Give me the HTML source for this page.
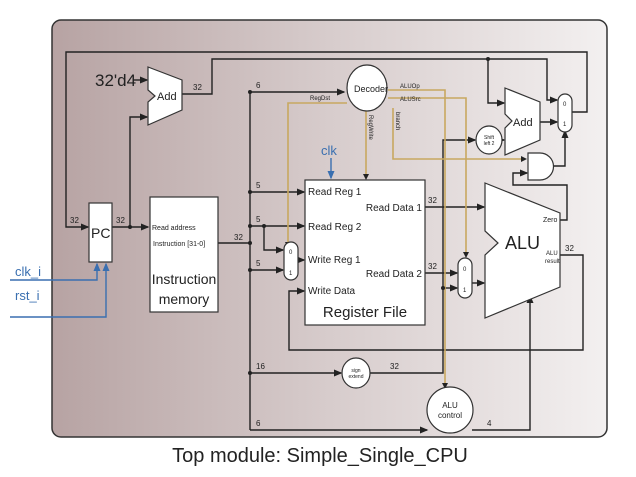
<!DOCTYPE html>
<html><head><meta charset="utf-8"><style>
html,body{margin:0;padding:0;background:#fff;width:636px;height:477px;overflow:hidden}
svg{display:block;font-family:"Liberation Sans",sans-serif}
</style></head><body>
<svg width="636" height="477" viewBox="0 0 636 477" xmlns="http://www.w3.org/2000/svg">
<defs>
<linearGradient id="bg" x1="0" y1="0" x2="1" y2="0">
<stop offset="0" stop-color="#b7a3a3"/><stop offset="0.5" stop-color="#d7cccc"/><stop offset="1" stop-color="#f3f0f0"/>
</linearGradient>
<marker id="a" markerWidth="6" markerHeight="6" refX="5" refY="3" orient="auto"><path d="M0,0.5 L6,3 L0,5.5z" fill="#222"/></marker>
<marker id="b" markerWidth="6" markerHeight="6" refX="5" refY="3" orient="auto"><path d="M0,0.5 L6,3 L0,5.5z" fill="#3a6fb0"/></marker>
</defs>
<rect x="52" y="20" width="555" height="417" rx="9" fill="url(#bg)" stroke="#333" stroke-width="1.5"/>
<g fill="none" stroke="#222" stroke-width="1.4">
<polyline points="572,112 587,112 587,52 66,52 66,227 88,227" marker-end="url(#a)"/>
<line x1="133" y1="80" x2="147" y2="80" marker-end="url(#a)"/>
<polyline points="182,94 212,94 212,59 547,59 547,100 557,100" marker-end="url(#a)"/>
<polyline points="488,59 488,103 504,103" marker-end="url(#a)"/>
<line x1="112" y1="227" x2="148" y2="227" marker-end="url(#a)"/>
<polyline points="130,227 130,117 147,117" marker-end="url(#a)"/>
<line x1="218" y1="243" x2="250" y2="243"/>
<polyline points="250,430 250,92 344,92" marker-end="url(#a)"/>
<line x1="250" y1="192" x2="304" y2="192" marker-end="url(#a)"/>
<line x1="250" y1="226" x2="304" y2="226" marker-end="url(#a)"/>
<polyline points="264,226 264,250 283,250" marker-end="url(#a)"/>
<line x1="250" y1="270" x2="283" y2="270" marker-end="url(#a)"/>
<line x1="298" y1="260" x2="304" y2="260" marker-end="url(#a)"/>
<line x1="250" y1="373" x2="341" y2="373" marker-end="url(#a)"/>
<line x1="250" y1="430" x2="427" y2="430" marker-end="url(#a)"/>
<polyline points="370,373 443,373 443,140 475,140" marker-end="url(#a)"/>
<polyline points="443,288 457,288" marker-end="url(#a)"/>
<line x1="502" y1="140" x2="504" y2="140" marker-end="url(#a)"/>
<line x1="540" y1="122" x2="557" y2="122" marker-end="url(#a)"/>
<polyline points="552,166 565,166 565,131" marker-end="url(#a)"/>
<polyline points="560,220 567,220 567,185 513,185 513,173 527,173" marker-end="url(#a)"/>
<line x1="425" y1="207" x2="484" y2="207" marker-end="url(#a)"/>
<line x1="425" y1="273" x2="457" y2="273" marker-end="url(#a)"/>
<line x1="472" y1="283" x2="484" y2="283" marker-end="url(#a)"/>
<polyline points="560,255 583,255 583,350 289,350 289,291 304,291" marker-end="url(#a)"/>
<polyline points="472,430 530,430 530,296" marker-end="url(#a)"/>
</g>
<g fill="none" stroke="#c8a860" stroke-width="1.6">
<polyline points="347,103 288,103 288,245" />
<polyline points="366,111 366,178"/>
<polyline points="393,108 393,159 525,159"/>
<polyline points="388,90 445,90 445,386"/>
<polyline points="388,98 466,98 466,256"/>
</g>
<g fill="#222">
<path d="M285,242 l3,6 l3,-6z"/><path d="M363,174 l3,6 l3,-6z"/><path d="M521,156 l6,3 l-6,3z"/><path d="M442,383 l3,6 l3,-6z"/><path d="M463,252 l3,6 l3,-6z"/>
<circle cx="250" cy="92" r="2"/><circle cx="250" cy="192" r="2"/><circle cx="250" cy="226" r="2"/><circle cx="264" cy="226" r="2"/><circle cx="250" cy="243" r="2"/><circle cx="250" cy="270" r="2"/><circle cx="250" cy="373" r="2"/><circle cx="130" cy="227" r="2"/><circle cx="488" cy="59" r="2"/><circle cx="443" cy="288" r="2"/>
</g>
<g stroke="#333" stroke-width="1.2" fill="#fff">
<polygon points="148,67 182,80 182,110 148,125 148,102 155,96 148,90"/>
<polygon points="505,88 540,102 540,140 505,155 505,128 512,121 505,114"/>
<polygon points="485,183 560,213 560,287 485,318 485,255 498,243 485,231"/>
<rect x="89" y="203" width="23" height="59"/>
<rect x="150" y="197" width="68" height="115"/>
<rect x="305" y="180" width="120" height="145"/>
<ellipse cx="367" cy="88" rx="20" ry="23"/>
<ellipse cx="489" cy="140" rx="13" ry="14"/>
<ellipse cx="356" cy="373" rx="14" ry="15"/>
<circle cx="450" cy="410" r="23"/>
<rect x="284" y="242" width="14" height="38" rx="7"/>
<rect x="458" y="258" width="14" height="40" rx="7"/>
<rect x="558" y="94" width="14" height="38" rx="7"/>
<path d="M528,153 h12 a13,13 0 0 1 0,27 h-12z"/>
</g>
<g fill="none" stroke="#3a6fb0" stroke-width="1.4">
<polyline points="10,280 97,280 97,264" marker-end="url(#b)"/>
<polyline points="10,317 106,317 106,264" marker-end="url(#b)"/>
<line x1="331" y1="158" x2="331" y2="178" marker-end="url(#b)"/>
</g>
<g fill="#222" font-size="11">
<text x="95" y="86" font-size="17">32'd4</text>
<text x="157" y="100" font-size="11">Add</text>
<text x="513" y="126" font-size="11">Add</text>
<text x="91" y="238" font-size="14">PC</text>
<text x="152" y="230" font-size="7">Read address</text>
<text x="153" y="246" font-size="7">Instruction [31-0]</text>
<text x="184" y="284" font-size="14" text-anchor="middle">Instruction</text>
<text x="184" y="304" font-size="14" text-anchor="middle">memory</text>
<text x="354" y="92" font-size="9">Decoder</text>
<text x="308" y="195" font-size="10">Read Reg 1</text>
<text x="308" y="230" font-size="10">Read Reg 2</text>
<text x="308" y="263" font-size="10">Write Reg 1</text>
<text x="308" y="294" font-size="10">Write Data</text>
<text x="422" y="211" font-size="10" text-anchor="end">Read Data 1</text>
<text x="422" y="277" font-size="10" text-anchor="end">Read Data 2</text>
<text x="365" y="317" font-size="15" text-anchor="middle">Register File</text>
<text x="505" y="249" font-size="18">ALU</text>
<text x="543" y="222" font-size="7">Zero</text>
<text x="546" y="255" font-size="6">ALU</text>
<text x="545" y="263" font-size="6">result</text>
<text x="450" y="408" font-size="8" text-anchor="middle">ALU</text>
<text x="450" y="418" font-size="8" text-anchor="middle">control</text>
<text x="356" y="372" font-size="5" text-anchor="middle">sign</text>
<text x="356" y="378" font-size="5" text-anchor="middle">extend</text>
<text x="489" y="139" font-size="5" text-anchor="middle">Shift</text>
<text x="489" y="145" font-size="5" text-anchor="middle">left 2</text>
<text x="400" y="88" font-size="6">ALUOp</text>
<text x="400" y="101" font-size="6">ALUSrc</text>
<text x="310" y="100" font-size="6">RegDst</text>
<text transform="translate(369,115) rotate(90)" font-size="6">RegWrite</text>
<text transform="translate(396,112) rotate(90)" font-size="6">branch</text>
<g font-size="6"><text x="289" y="254">0</text><text x="289" y="275">1</text><text x="463" y="271">0</text><text x="463" y="292">1</text><text x="563" y="106">0</text><text x="563" y="126">1</text></g>
<g font-size="8"><text x="70" y="223">32</text><text x="116" y="223">32</text><text x="193" y="90">32</text><text x="234" y="240">32</text><text x="256" y="88">6</text><text x="256" y="188">5</text><text x="256" y="222">5</text><text x="256" y="266">5</text><text x="256" y="369">16</text><text x="256" y="426">6</text><text x="390" y="369">32</text><text x="428" y="203">32</text><text x="428" y="269">32</text><text x="565" y="251">32</text><text x="487" y="426">4</text></g>
<text x="321" y="155" font-size="13" fill="#3a6fb0">clk</text>
<text x="15" y="276" font-size="13" fill="#3a6fb0">clk_i</text>
<text x="15" y="300" font-size="13" fill="#3a6fb0">rst_i</text>
<text x="320" y="462" font-size="20" text-anchor="middle">Top module: Simple_Single_CPU</text>
</g>
</svg>
</body></html>
